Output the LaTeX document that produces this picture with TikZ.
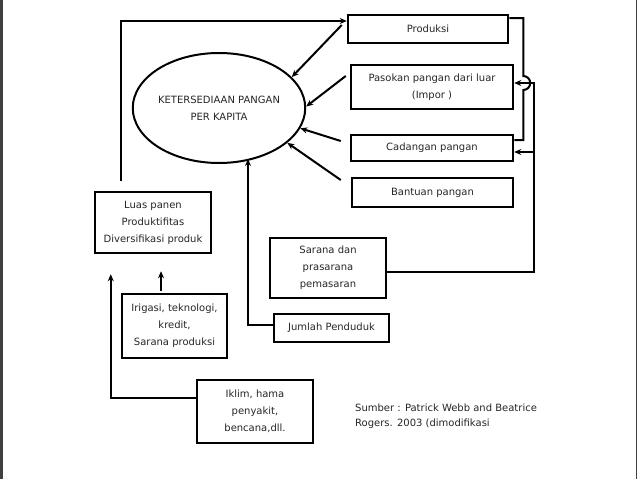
\documentclass[tikz,border=0pt]{standalone}
\usepackage{fontspec}
\setmainfont{DejaVu Sans}
\usetikzlibrary{arrows.meta,calc,shapes.geometric}
\begin{document}
\begin{tikzpicture}[x=1pt,y=-1pt,
  txt/.style={text=black!85,font=\fontsize{10pt}{17pt}\selectfont,align=center},
  box/.style={txt,draw=black,line width=2.5pt,inner sep=0pt},
  conn/.style={line width=2pt,line join=miter},
  arr/.style={conn,-{Stealth[length=7pt,width=6pt]}}
]
\useasboundingbox (0,0) rectangle (638,479);
\fill[white] (0,0) rectangle (638,479);
\draw[line width=2.5pt,black!75] (1.25,0) -- (1.25,479);
\draw[line width=1.2pt,black!75] (636.5,0) -- (636.5,479);

% nodes
\node[txt,draw=black,ellipse,line width=2pt,inner sep=0pt,minimum width=164pt,minimum height=110pt] (ell) at (219,108) {KETERSEDIAAN PANGAN\\PER KAPITA};
\node[box,minimum width=160pt,minimum height=28pt] (prod) at (428,29) {Produksi};
\node[box,minimum width=162pt,minimum height=44pt] (pas) at (432,87) {Pasokan pangan dari luar\\(Impor )};
\node[box,minimum width=162pt,minimum height=26pt] (cad) at (432,148) {Cadangan pangan};
\node[box,minimum width=161pt,minimum height=29pt] (ban) at (432.5,192.5) {Bantuan pangan};
\node[box,minimum width=116pt,minimum height=60pt] (sar) at (328,268) {Sarana dan\\prasarana\\pemasaran};
\node[box,minimum width=115pt,minimum height=28pt] (jum) at (331.5,328) {Jumlah Penduduk};
\node[box,minimum width=116pt,minimum height=61pt] (luas) at (153,222.5) {Luas panen\\Produktifitas\\Diversifikasi produk};
\node[box,minimum width=105pt,minimum height=64pt] (iri) at (174.5,326) {Irigasi, teknologi,\\kredit,\\Sarana produksi};
\node[box,minimum width=116pt,minimum height=63pt] (ikl) at (255,411.5) {Iklim, hama\\penyakit,\\bencana,dll.};
\node[txt,font=\fontsize{10pt}{14.5pt}\selectfont,align=left,anchor=west,inner sep=0pt] (src) at (355,416) {Sumber : Patrick Webb and Beatrice\\Rogers. 2003 (dimodifikasi};

% connectors into the ellipse
\draw[arr] ([xshift=-5pt,yshift=4pt]prod.west) -- (ell.23.5);
\draw[arr] ([xshift=-4pt,yshift=11pt]pas.west) -- (ell.1.4);
\draw[arr] ([xshift=-9pt,yshift=7pt]cad.west) -- (ell.-14);
\draw[arr] ([xshift=-10pt,yshift=12.5pt]ban.west) -- (ell.-27);
\draw[arr] ([yshift=3pt]jum.west) -| ($(ell.center)+(29,51)$);

% left side
\draw[arr] ([xshift=27pt,yshift=10pt]luas.north west) |- ([yshift=8pt]prod.west);
\draw[arr] ([xshift=-13.5pt,yshift=2pt]iri.north) -- ([xshift=8pt,yshift=-17pt]luas.south);
\draw[arr] ([yshift=13.5pt]ikl.west) -| ([xshift=17pt,yshift=-20pt]luas.south west);

% right side
\coordinate (hopT) at ($(prod.east)+(14,47)$);
\draw[conn] ([yshift=11pt]prod.east) -| (hopT) arc[start angle=90,end angle=-90,radius=7pt] |- ([yshift=8pt]cad.east);
\coordinate (trunkTop) at ($(pas.east)+(20,-4)$);
\coordinate (cadR) at ([yshift=-4pt]cad.east);
\draw[arr] ([yshift=-4pt]sar.east) -| (trunkTop) -- ([yshift=4pt]pas.east);
\draw[arr] (trunkTop |- cadR) -- (cadR);
\end{tikzpicture}
\end{document}
